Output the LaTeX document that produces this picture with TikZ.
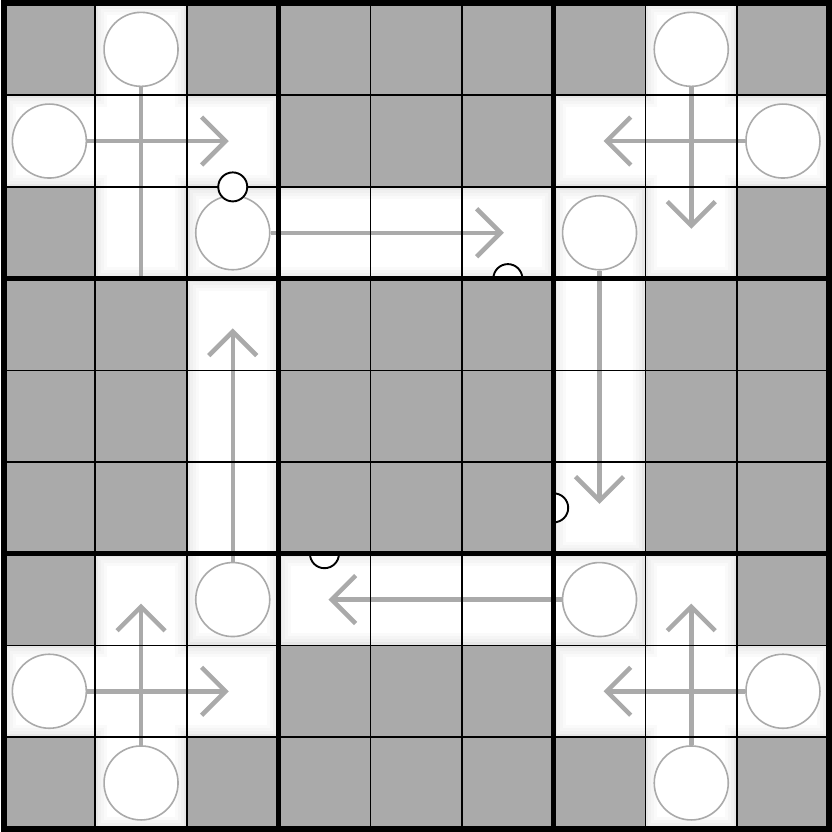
\documentclass[tikz,border=0pt]{standalone}
\usetikzlibrary{arrows.meta}
\definecolor{cellgray}{HTML}{AAAAAA}
\newcommand{\gx}[1]{3.5+91.7*(#1)}
\newcommand{\cc}[1]{49.35+91.7*(#1)}
\tikzset{
  bigc/.style={circle, minimum size=74pt, inner sep=0pt, draw=cellgray, line width=1.6pt, fill=white},
  smallc/.style={circle, minimum size=29pt, inner sep=0pt, draw=black, line width=1.9pt, fill=white},
  arr/.style={draw=cellgray, line width=4.5pt, -{Straight Barb[length=24pt,width=48pt]}},
  plainline/.style={draw=cellgray, line width=4.5pt},
  gcell/.style={fill=cellgray, draw=black, line width=1.5pt},
  thinline/.style={draw=black, line width=1.5pt},
  thickline/.style={draw=black, line width=5pt},
}
\begin{document}
\begin{tikzpicture}[x=1pt,y=-1pt]
\useasboundingbox (0,0) rectangle (832,832);
\fill[white] (0,0) rectangle (832,832);
% shaded white strips
\foreach \ins/\g in {0/9,3/6,6/4,9/2,12/0}{
  \foreach \a/\b/\c/\d in {1/0/1/2, 0/1/2/1, 2/2/5/2, 6/2/6/5, 3/6/6/6, 2/3/2/6, 7/0/7/2, 6/1/8/1, 1/6/1/8, 0/7/2/7, 7/6/7/8, 6/7/8/7}{
    \fill[black!\g] ({\gx{\a}+\ins},{\gx{\b}+\ins}) rectangle ({\gx{\c+1}-\ins},{\gx{\d+1}-\ins});
  }
}
% circles
\node[bigc] (c10) at ({\cc{1}},{\cc{0}}) {};
\node[bigc] (c01) at ({\cc{0}},{\cc{1}}) {};
\node[bigc] (c22) at ({\cc{2}},{\cc{2}}) {};
\node[bigc] (c62) at ({\cc{6}},{\cc{2}}) {};
\node[bigc] (c66) at ({\cc{6}},{\cc{6}}) {};
\node[bigc] (c26) at ({\cc{2}},{\cc{6}}) {};
\node[bigc] (c70) at ({\cc{7}},{\cc{0}}) {};
\node[bigc] (c81) at ({\cc{8}},{\cc{1}}) {};
\node[bigc] (c18) at ({\cc{1}},{\cc{8}}) {};
\node[bigc] (c07) at ({\cc{0}},{\cc{7}}) {};
\node[bigc] (c78) at ({\cc{7}},{\cc{8}}) {};
\node[bigc] (c87) at ({\cc{8}},{\cc{7}}) {};
% arrow ends
\coordinate (t21) at ({\cc{2}-4},{\cc{1}});
\coordinate (t52) at ({\cc{5}-4},{\cc{2}});
\coordinate (t65) at ({\cc{6}},{\cc{5}-4});
\coordinate (t36) at ({\cc{3}+4},{\cc{6}});
\coordinate (t23) at ({\cc{2}},{\cc{3}+4});
\coordinate (t72) at ({\cc{7}},{\cc{2}-4});
\coordinate (t61) at ({\cc{6}+4},{\cc{1}});
\coordinate (t16) at ({\cc{1}},{\cc{6}+4});
\coordinate (t27) at ({\cc{2}-4},{\cc{7}});
\coordinate (t76) at ({\cc{7}},{\cc{6}+4});
\coordinate (t67) at ({\cc{6}+4},{\cc{7}});
\coordinate (e13) at ({\cc{1}},{\gx{3}});
% connectors
\draw[plainline] (c10) -- (e13);
\draw[arr] (c01) -- (t21);
\draw[arr] (c22) -- (t52);
\draw[arr] (c62) -- (t65);
\draw[arr] (c66) -- (t36);
\draw[arr] (c26) -- (t23);
\draw[arr] (c70) -- (t72);
\draw[arr] (c81) -- (t61);
\draw[arr] (c18) -- (t16);
\draw[arr] (c07) -- (t27);
\draw[arr] (c78) -- (t76);
\draw[arr] (c87) -- (t67);
% thin grid
\foreach \i in {1,2,4,5,7,8}{
  \draw[thinline] ({\gx{\i}},{\gx{0}}) -- ({\gx{\i}},{\gx{9}});
  \draw[thinline] ({\gx{0}},{\gx{\i}}) -- ({\gx{9}},{\gx{\i}});
}
% small circles
\node[smallc] (s1) at ({\cc{2}},{\gx{2}}) {};
\node[smallc] (s2) at ({\cc{5}},{\gx{3}}) {};
\node[smallc] (s3) at ({\gx{6}},{\cc{5}}) {};
\node[smallc] (s4) at ({\cc{3}},{\gx{6}}) {};
% gray cells
\foreach \c/\r in {0/0,2/0,3/0,4/0,5/0,6/0,8/0,
                   3/1,4/1,5/1,
                   0/2,8/2,
                   0/3,1/3,3/3,4/3,5/3,7/3,8/3,
                   0/4,1/4,3/4,4/4,5/4,7/4,8/4,
                   0/5,1/5,3/5,4/5,5/5,7/5,8/5,
                   0/6,8/6,
                   3/7,4/7,5/7,
                   0/8,2/8,3/8,4/8,5/8,6/8,8/8}{
  \filldraw[gcell] ({\gx{\c}},{\gx{\r}}) rectangle ({\gx{\c+1}},{\gx{\r+1}});
}
% thick grid
\foreach \i in {3,6}{
  \draw[thickline] ({\gx{\i}},{\gx{0}}) -- ({\gx{\i}},{\gx{9}});
  \draw[thickline] ({\gx{0}},{\gx{\i}}) -- ({\gx{9}},{\gx{\i}});
}
\draw[black, line width=6pt] ({\gx{0}},{\gx{0}}) rectangle ({\gx{9}},{\gx{9}});
\end{tikzpicture}
\end{document}
